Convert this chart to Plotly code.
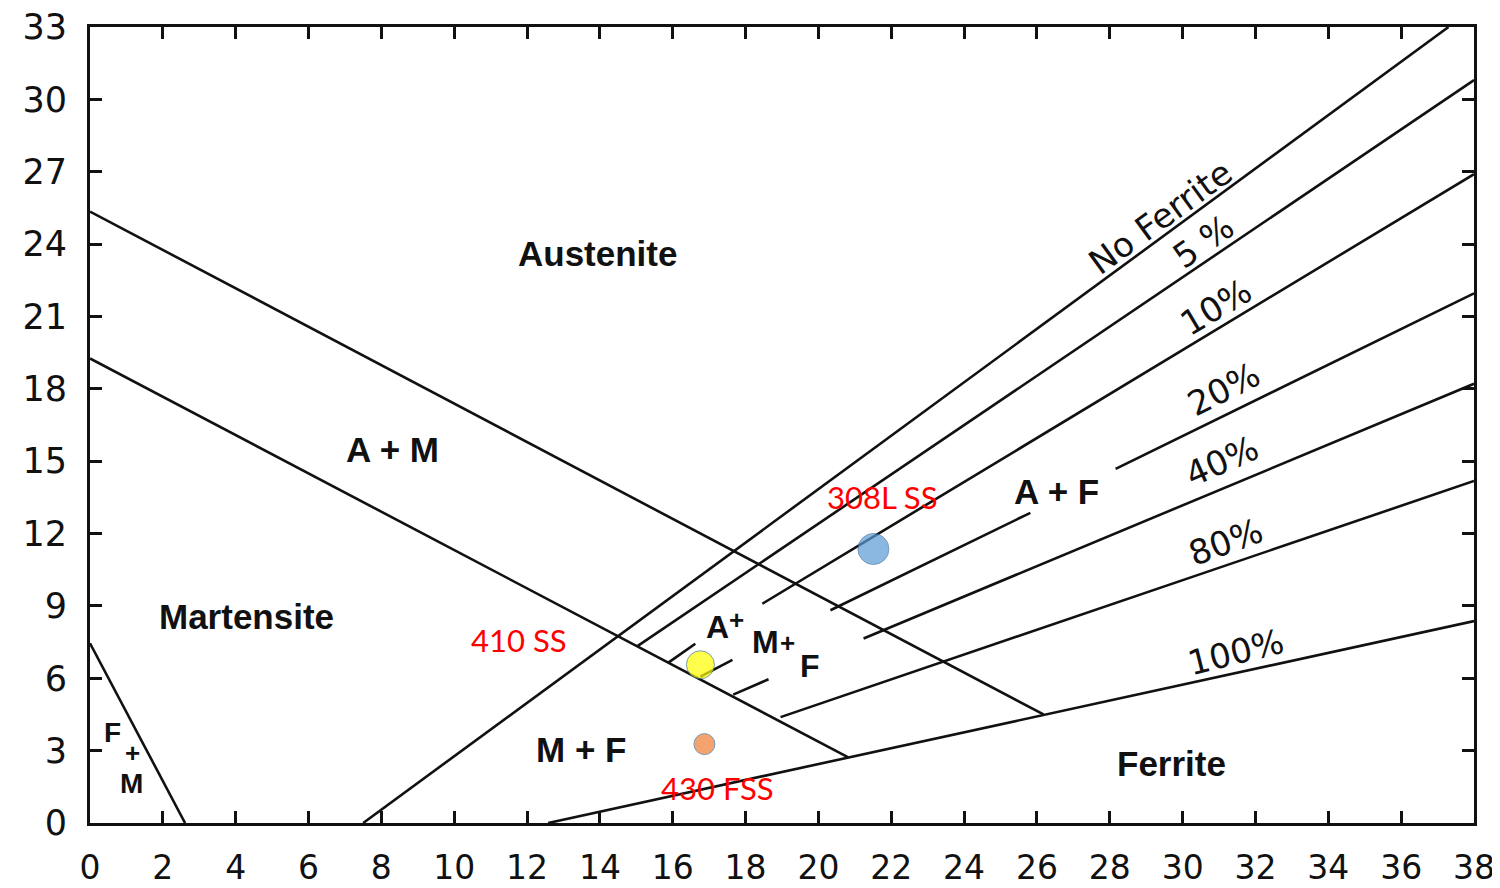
import plotly.graph_objects as go

# ---------------- data ----------------
x_ticks = list(range(0, 39, 2))
y_ticks = list(range(0, 34, 3))

# phase boundaries  (Cr equivalent, Ni equivalent)
aus_x = [0, 26.18]
aus_y = [25.35, 4.50]
mart_x = [0, 20.82]
mart_y = [19.26, 2.72]
fm_x = [0, 2.61]
fm_y = [7.45, 0]

# iso-ferrite lines (None = gap)
nof_x = [7.5, 37.3]
nof_y = [0, 33.0]
f5_x = [15.03, 38]
f5_y = [7.33, 30.8]
f10_x = [15.88, 16.62, None, 18.46, 38]
f10_y = [6.65, 7.43, None, 9.09, 26.9]
f20_x = [16.76, 17.64, None, 20.33, 25.82, None, 28.16, 38]
f20_y = [6.07, 6.76, None, 8.82, 12.86, None, 14.68, 21.96]
f40_x = [17.66, 18.63, None, 21.24, 38]
f40_y = [5.32, 5.96, None, 7.65, 18.21]
f80_x = [18.96, 38]
f80_y = [4.39, 14.18]
f100_x = [12.58, 38]
f100_y = [0, 8.37]

# alloys
alloy_names = ["308L SS", "410 SS", "430 FSS"]
alloy_x = [21.51, 16.76, 16.87]
alloy_y = [11.36, 6.56, 3.27]
alloy_colors = ["#5B9BD5", "#FFFF00", "#ED7D31"]
alloy_sizes = [31, 28, 21]
alloy_label_x = [21.76, 11.79, 17.23]
alloy_label_y = [13.53, 7.58, 1.46]

# region labels
region_text = ["Austenite", "A + M", "Martensite", "M + F", "A + F", "Ferrite"]
region_x = [13.93, 8.30, 4.29, 13.49, 26.54, 29.70]
region_y = [23.60, 15.47, 8.58, 3.03, 13.76, 2.45]

# iso-ferrite labels
pct_text = ["No Ferrite", "5 %", "10%", "20%", "40%", "80%", "100%"]
pct_x = [29.4, 30.58, 30.91, 31.13, 31.07, 31.18, 31.46]
pct_y = [25.12, 24.12, 21.40, 17.98, 15.01, 11.64, 7.11]
pct_angle = [-36, -35, -31, -27, -24, -20, -14]

# small stacked labels
small_text = ["F", "+", "M", "A", "+", "M", "+", "F"]
small_x = [0.62, 1.18, 1.15, 17.23, 17.75, 18.54, 19.15, 19.78]
small_y = [3.75, 2.90, 1.63, 8.12, 8.40, 7.49, 7.45, 6.52]
small_size = [28, 26, 28, 32, 26, 32, 26, 32]

# ---------------- figure ----------------
fig = go.Figure()
line_style = dict(color="#111111", width=2.6)
for xs, ys in [(aus_x, aus_y), (mart_x, mart_y), (fm_x, fm_y), (nof_x, nof_y),
               (f5_x, f5_y), (f10_x, f10_y), (f20_x, f20_y), (f40_x, f40_y),
               (f80_x, f80_y), (f100_x, f100_y)]:
    fig.add_trace(go.Scatter(x=xs, y=ys, mode="lines", line=line_style,
                             connectgaps=False, hoverinfo="skip", showlegend=False))

fig.add_trace(go.Scatter(
    x=alloy_x, y=alloy_y, mode="markers", text=alloy_names, showlegend=False,
    marker=dict(color=alloy_colors, size=alloy_sizes,
                line=dict(color="#41719C", width=1))))

for t, x, y in zip(alloy_names, alloy_label_x, alloy_label_y):
    fig.add_annotation(x=x, y=y, text=t, showarrow=False,
                       font=dict(family="Lato", size=31, color="#FF0000"))

for t, x, y in zip(region_text, region_x, region_y):
    fig.add_annotation(x=x, y=y, text="<b>%s</b>" % t, showarrow=False,
                       font=dict(family="Liberation Sans", size=35, color="#111111"))

for t, x, y, a in zip(pct_text, pct_x, pct_y, pct_angle):
    fig.add_annotation(x=x, y=y, text=t, showarrow=False, textangle=a,
                       font=dict(family="DejaVu Sans", size=34, color="#111111"))

for t, x, y, s in zip(small_text, small_x, small_y, small_size):
    fig.add_annotation(x=x, y=y, text="<b>%s</b>" % t, showarrow=False,
                       font=dict(family="Liberation Sans", size=s, color="#111111"))

axis_common = dict(showline=True, linecolor="#111111", linewidth=3, mirror="allticks",
                   ticks="inside", ticklen=12, tickwidth=2.5, tickcolor="#111111",
                   showgrid=False, zeroline=False, automargin=False,
                   ticklabeloverflow="allow")

fig.update_xaxes(range=[0, 38], tickvals=x_ticks, ticktext=[str(v) for v in x_ticks],
                 tickfont=dict(family="DejaVu Sans", size=33, color="#111111"),
                 ticklabelstandoff=13, **axis_common)
fig.update_yaxes(range=[0, 33], tickvals=y_ticks, ticktext=[str(v) for v in y_ticks],
                 tickfont=dict(family="DejaVu Sans", size=35, color="#111111"),
                 ticklabelstandoff=13, **axis_common)

fig.update_layout(width=1500, height=888, autosize=False,
                  margin=dict(l=82, r=34, t=19, b=73),
                  plot_bgcolor="white", paper_bgcolor="white", showlegend=False)

fig.write_html("out.html")
